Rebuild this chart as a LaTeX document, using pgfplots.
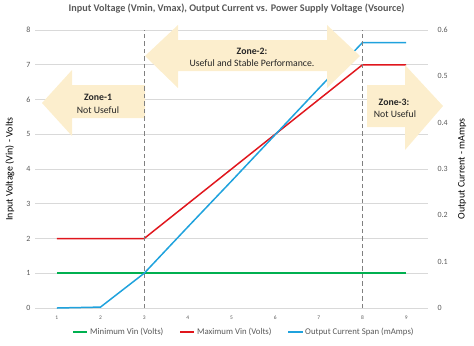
\documentclass[border=0pt]{standalone}
\usepackage{pgfplots}
\pgfplotsset{compat=1.18}
\usepackage{fontspec}
\setmainfont{Carlito}
\definecolor{txt}{HTML}{595959}
\definecolor{grd}{HTML}{D9D9D9}
\definecolor{myred}{RGB}{224,22,29}
\definecolor{myblue}{RGB}{31,162,221}
\definecolor{arrowfill}{RGB}{252,238,205}
\definecolor{dashc}{RGB}{128,128,128}
\begin{document}
\begin{tikzpicture}
\begin{scope}[xshift=-35bp,yshift=308bp,x=1bp,y=-1bp]
\useasboundingbox (0,0) rectangle (474,345);
\end{scope}
\begin{axis}[
  at={(0,0)}, anchor=south west,
  scale only axis, width=393bp, height=278bp,
  xmin=0.5, xmax=9.5, ymin=0, ymax=8,
  xtick={1,...,9}, ytick={0,...,8},
  axis line style={draw=none},
  major tick length=0pt,
  ymajorgrids, grid style={grd, line width=0.8pt},
  tick label style={text=txt, /pgf/number format/assume math mode=true},
  yticklabel style={font=\fontsize{8}{9}\selectfont, xshift=-1bp},
  xticklabel style={font=\fontsize{5.5}{6}\selectfont, yshift=-4bp},
  ylabel={Input Voltage (Vin) - Volts},
  ylabel style={font=\fontsize{9}{10}\selectfont, text=txt},
  every axis y label/.style={at={(axis description cs:-0.064,0.5)}, rotate=90, anchor=center},
  title={\textbf{Input Voltage (Vmin, Vmax), Output Current vs. Power Supply Voltage (Vsource)}},
  title style={font=\fontsize{10.2}{12}\selectfont, text=txt, at={(axis description cs:0.513,1.054)}, anchor=center},
  clip=false,
]
\addplot[color={rgb,255:red,0;green,176;blue,80}, line width=1.6pt, mark=none] coordinates {(1,1) (2,1) (3,1) (4,1) (5,1) (6,1) (7,1) (8,1) (9,1)};
\addplot[color=myred, line width=1.5pt, mark=none] coordinates {(1,2) (2,2) (3,2) (4,3) (5,4) (6,5) (7,6) (8,7) (9,7)};
\coordinate (a3) at (axis cs:3,0);
\coordinate (b3) at (axis cs:3,8);
\coordinate (a8) at (axis cs:8,0);
\coordinate (b8) at (axis cs:8,8);
\end{axis}
\begin{axis}[
  at={(0,0)}, anchor=south west,
  scale only axis, width=393bp, height=278bp,
  xmin=0.5, xmax=9.5, ymin=0, ymax=0.6,
  axis x line=none, axis y line*=right,
  axis line style={draw=none},
  major tick length=0pt,
  ytick={0,0.1,0.2,0.3,0.4,0.5,0.6},
  yticklabel style={font=\fontsize{8}{9}\selectfont, text=txt, xshift=6bp,
     /pgf/number format/assume math mode=true, /pgf/number format/fixed},
  ylabel={Output Current - mAmps},
  ylabel style={font=\fontsize{9}{10}\selectfont, text=txt},
  every axis y label/.style={at={(axis description cs:1.087,0.5)}, rotate=90, anchor=center},
  legend style={draw=none, fill=none, at={(axis description cs:0.532,-0.086)}, anchor=center,
    font=\fontsize{8.8}{10}\selectfont, text=txt, legend columns=3,
    /tikz/every even column/.append style={column sep=14bp}},
  legend image code/.code={\draw[#1, line width=1.5pt] (0cm,0cm) -- (0.5cm,0cm);},
  clip=false,
]
\addlegendimage{color={rgb,255:red,0;green,176;blue,80}}
\addlegendentry{Minimum Vin (Volts)}
\addlegendimage{color=myred}
\addlegendentry{Maximum Vin (Volts)}
\addplot[color=myblue, line width=1.5pt, mark=none] coordinates {(1,0) (2,0.002) (3,0.075) (4,0.175) (5,0.274) (6,0.374) (7,0.474) (8,0.573) (9,0.573)};
\addlegendentry{Output Current Span (mAmps)}
\end{axis}
\begin{scope}[xshift=-35bp,yshift=308bp,x=1bp,y=-1bp]
\fill[arrowfill] (42,103) -- (72,70) -- (72,85) -- (145,85) -- (145,118) -- (72,118) -- (72,136) -- cycle;
\fill[arrowfill] (145,56) -- (178,25) -- (178,40) -- (327,40) -- (327,25) -- (360,56) -- (327,88) -- (327,71) -- (178,71) -- (178,88) -- cycle;
\fill[arrowfill] (367,85) -- (405,85) -- (405,65) -- (443,106) -- (405,150) -- (405,127) -- (367,127) -- cycle;
\node[font=\fontsize{9.8}{11}\selectfont\bfseries, text=black!85] at (98,97) {Zone-1};
\node[font=\fontsize{9.8}{11}\selectfont, text=black!85] at (98,110) {Not Useful};
\node[font=\fontsize{9.8}{11}\selectfont\bfseries, text=black!85] at (252,51) {Zone-2:};
\node[font=\fontsize{9.8}{11}\selectfont, text=black!85] at (252,63) {Useful and Stable Performance.};
\node[font=\fontsize{9.8}{11}\selectfont\bfseries, text=black!85] at (394,102) {Zone-3:};
\node[font=\fontsize{9.8}{11}\selectfont, text=black!85] at (395,114) {Not Useful};
\end{scope}
\draw[dashc, line width=1.3pt, dash pattern=on 4.5bp off 3bp] (a3) -- (b3);
\draw[dashc, line width=1.3pt, dash pattern=on 4.5bp off 3bp] (a8) -- (b8);
\end{tikzpicture}
\end{document}
